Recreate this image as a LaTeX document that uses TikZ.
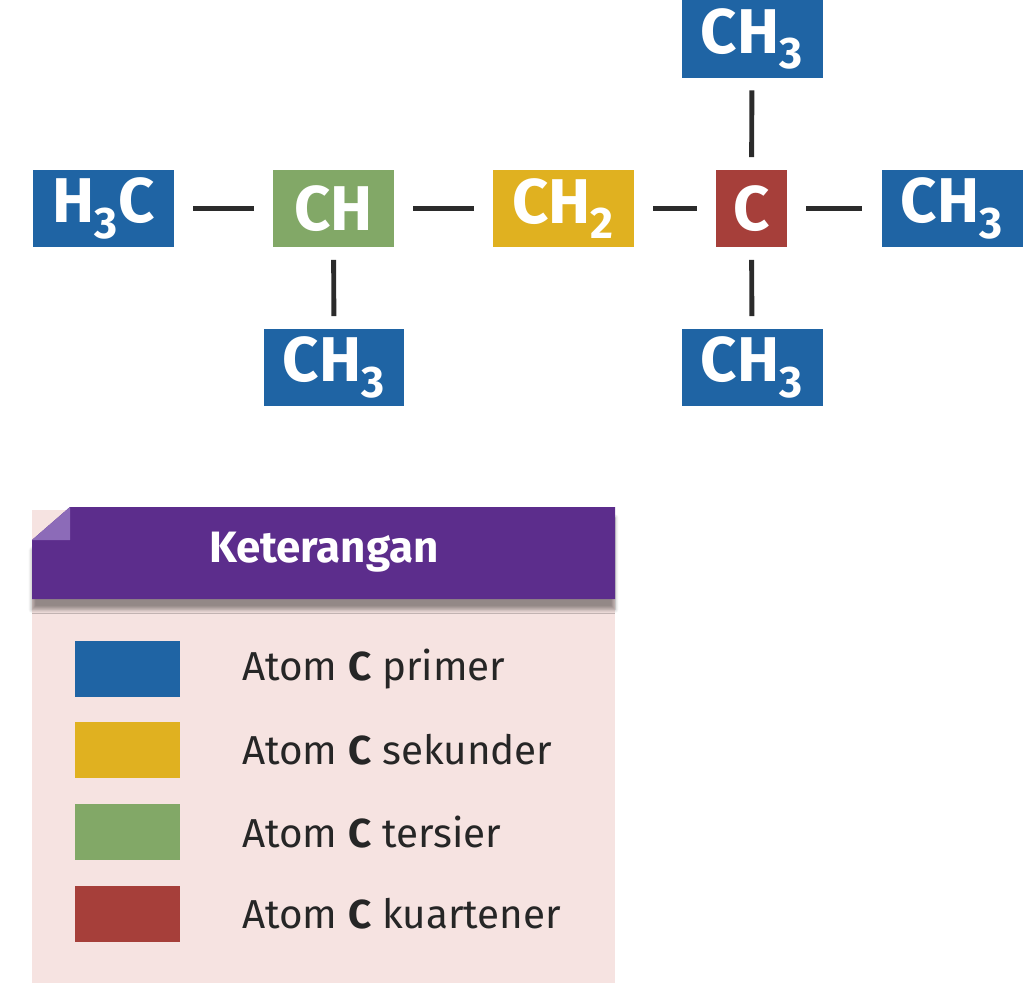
\documentclass[tikz,border=0pt]{standalone}
\usepackage{fontspec}
\setmainfont{Fira Sans}
\usetikzlibrary{shadows.blur}
\definecolor{cblue}{HTML}{1F64A4}
\definecolor{cyellow}{HTML}{E0B120}
\definecolor{cgreen}{HTML}{82A867}
\definecolor{cred}{HTML}{A63F3A}
\definecolor{cpurple}{HTML}{5C2D8C}
\definecolor{cfold}{HTML}{8C6BB8}
\definecolor{cpink}{HTML}{F6E3E1}
\definecolor{cbond}{HTML}{2B2B2B}
\tikzset{
  cbox/.style={inner sep=0pt,minimum height=1.56cm,text=white,
    font=\fontsize{36}{40}\selectfont\bfseries},
  bond/.style={draw=cbond,line width=2.8pt,shorten >=0.38cm,shorten <=0.38cm},
  vbond/.style={draw=cbond,line width=2.8pt,shorten >=0.24cm,shorten <=0.24cm},
  swatch/.style={inner sep=0pt,minimum width=2.1cm,minimum height=1.12cm},
  legtext/.style={anchor=west,text=black!85,font=\fontsize{23}{26}\selectfont}
}
\begin{document}
\begin{tikzpicture}[x=0.02cm,y=-0.02cm]
  \useasboundingbox (0,0) rectangle (1023,983);
  % molecule
  \node[cbox,fill=cblue,minimum width=2.82cm] (c1) at (103.5,208.5) {H\textsubscript{3}C};
  \node[cbox,fill=cgreen,minimum width=2.42cm] (c2) at (333.5,208.5) {CH};
  \node[cbox,fill=cyellow,minimum width=2.82cm] (c3) at (563.5,208.5) {CH\textsubscript{2}};
  \node[cbox,fill=cred,minimum width=1.42cm] (c4) at (751.5,208.5) {C};
  \node[cbox,fill=cblue,minimum width=2.82cm] (c5) at (952,208.5) {CH\textsubscript{3}};
  \node[cbox,fill=cblue,minimum width=2.82cm] (c6) at (334,367.5) {CH\textsubscript{3}};
  \node[cbox,fill=cblue,minimum width=2.82cm] (c7) at (752,39) {CH\textsubscript{3}};
  \node[cbox,fill=cblue,minimum width=2.82cm] (c8) at (752,367.5) {CH\textsubscript{3}};
  \draw[bond] (c1) -- (c2);
  \draw[bond] (c2) -- (c3);
  \draw[bond] (c3) -- (c4);
  \draw[bond] (c4) -- (c5);
  \draw[vbond] (c2) -- (c6);
  \draw[vbond] (c4) -- (c7);
  \draw[vbond] (c4) -- (c8);
  % legend
  \fill[cpink] (32,510) rectangle (615,983);
  \fill[cpurple,blur shadow={shadow xshift=0pt,shadow yshift=-6pt,shadow blur steps=8}]
    (70,507) -- (615,507) -- (615,599) -- (32,599) -- (32,540) -- cycle;
  \fill[cfold] (70,507) -- (70,540) -- (32,540) -- cycle;
  \node[text=white,font=\fontsize{25}{28}\selectfont\bfseries] (head) at (324,552) {Keterangan};
  \node[swatch,fill=cblue] (s1) at (127.5,669) {};
  \node[swatch,fill=cyellow] (s2) at (127.5,750) {};
  \node[swatch,fill=cgreen] (s3) at (127.5,832) {};
  \node[swatch,fill=cred] (s4) at (127.5,914) {};
  \node[legtext] (t1) at (236,669) {Atom \textbf{C} primer};
  \node[legtext] (t2) at (236,750) {Atom \textbf{C} sekunder};
  \node[legtext] (t3) at (236,832) {Atom \textbf{C} tersier};
  \node[legtext] (t4) at (236,914) {Atom \textbf{C} kuartener};
\end{tikzpicture}
\end{document}
